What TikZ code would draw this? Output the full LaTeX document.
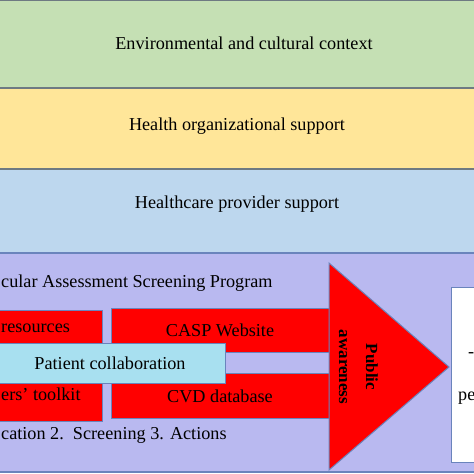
\documentclass[tikz,border=0pt]{standalone}
\usepackage{fontspec}
\setmainfont{Liberation Serif}
\usetikzlibrary{positioning}
\definecolor{envgreen}{HTML}{C5E0B4}
\definecolor{orgyellow}{HTML}{FFE699}
\definecolor{provblue}{HTML}{BDD7EE}
\definecolor{caspviolet}{HTML}{B9B9F0}
\definecolor{patcyan}{HTML}{A8E0F0}
\definecolor{edgeblue}{HTML}{6A84BC}
\definecolor{sepgray}{HTML}{6E7A82}
\tikzset{
	band/.style={
		draw=sepgray, line width=1.2pt, minimum width=480pt,
		inner sep=0pt, outer sep=0pt
	},
	redbox/.style={
		fill=red, draw=edgeblue, line width=.6pt,
		inner sep=0pt, outer sep=0pt, font=\fontsize{18.2}{21}\selectfont
	},
	txt/.style={
		inner sep=0pt, font=\fontsize{18.2}{21}\selectfont
	}
}

\begin{document}
\begin{tikzpicture}[x=1pt,y=-1pt]
		\useasboundingbox (0,0) rectangle (474,474);
		\clip (0,0) rectangle (474,474);

		% outer layers
		\node[band,fill=envgreen,minimum height=88pt]   (env)  at (237,44)    {};
		\node[band,fill=orgyellow,minimum height=81pt]  (org)  at (237,128.5) {};
		\node[band,fill=provblue,minimum height=84pt]   (prov) at (237,211)   {};
		\node[band,fill=caspviolet,draw=edgeblue,line width=1.8pt,
			minimum height=219pt]                         (casp) at (237,362.5) {};

		\node[txt] (envt)  at (244,43)  {Environmental and cultural context};
		\node[txt] (orgt)  at (237,126) {Health organizational support};
		\node[txt] (provt) at (237,204) {Healthcare provider support};

		% program
		\node[txt,anchor=west] (caspt) at (1,283) {cular Assessment Screening Program};

		\node[redbox,minimum width=120pt,minimum height=44pt,anchor=north east] (res) at (102,310) {};
		\node[redbox,minimum width=218pt,minimum height=44pt] (web) at (220,330) {CASP Website};
		\node[redbox,minimum width=120pt,minimum height=45pt,anchor=south east] (kit) at (102,421) {};
		\node[redbox,minimum width=218pt,minimum height=45pt] (db)  at (220,396) {CVD database};

		\node[txt,anchor=west] (rest) at (1,328) {resources};
		\node[txt,anchor=west] (kitt) at (1,394) {ers’ toolkit};

		\node[fill=patcyan,draw=edgeblue,line width=.8pt,minimum width=230pt,minimum height=40pt,
			inner sep=0pt,font=\fontsize{18.2}{21}\selectfont]
			(pat) at (110,363) {Patient collaboration};

		\node[txt,anchor=west] (steps) at (1,435) {cation 2.\ \ Screening 3. Actions};

		% arrow
		\coordinate (top) at (329,263);
		\coordinate (bot) at (329,470);
		\coordinate (tip) at (449,367);
		\draw[fill=red,draw=edgeblue,line width=1pt,line join=miter] (top) -- (tip) -- (bot) -- cycle;
		\node[inner sep=0pt,rotate=-90,align=center,
			font=\fontsize{17}{27}\selectfont\bfseries] (pub) at (358.5,367) {Public\\awareness};

		% outcome
		\node[draw=edgeblue,fill=white,line width=1pt,minimum width=40pt,minimum height=175pt,
			anchor=north west] (out) at (451,287) {};
		\node[txt,anchor=west] (outa) at (468,355) {-};
		\node[txt,anchor=west] (outb) at (458,398) {pe};
	\end{tikzpicture}
\end{document}
